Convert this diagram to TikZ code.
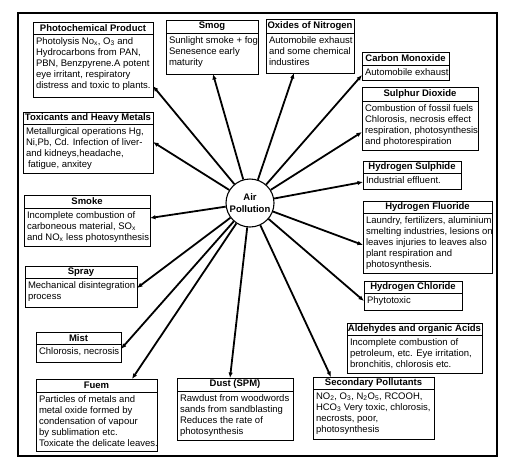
\documentclass[tikz,border=0pt]{standalone}
\usepackage{fontspec}
\setmainfont{Liberation Sans}
\usetikzlibrary{arrows.meta}
\tikzset{
  ttl/.style={draw, line width=0.9pt, inner sep=0pt, outer sep=0pt, font=\fontsize{9.5}{11}\selectfont\bfseries},
  bdy/.style={draw, line width=0.9pt, inner sep=0pt, outer sep=0pt},
  txt/.style={inner xsep=2.8pt, inner ysep=3.2pt, align=left, font=\fontsize{9.5}{11}\selectfont},
  conn/.style={line width=1.8pt, -{Latex[length=5.5pt,width=4.5pt]}},
  hub/.style={circle, draw, line width=1.1pt, minimum size=48pt, inner sep=0pt, align=center, font=\fontsize{9.5}{11.5}\selectfont\bfseries},
  frame/.style={line width=1.1pt}
}
\newcommand{\pbox}[8]{%
  \pgfmathsetmacro{\bxw}{#5-#2}%
  \pgfmathsetmacro{\bxt}{#4-#3}%
  \pgfmathsetmacro{\bxh}{#6-#4}%
  \node[ttl, minimum width=\bxw pt, minimum height=\bxt pt, anchor=north west] (#1t) at (#2,#3) {#7};
  \node[bdy, minimum width=\bxw pt, minimum height=\bxh pt, anchor=north west] (#1) at (#2,#4) {};
  \node[txt, anchor=north west] (#1x) at (#1.north west) {#8};
}
\begin{document}
\begin{tikzpicture}[x=1pt,y=-1pt]
\useasboundingbox[fill=white] (0,0) rectangle (518,467);
\draw[frame] (18,13) rectangle (497,456);

\node[hub] (air) at (250,203) {Air\\Pollution};

\pbox{photo}{33}{22}{34}{153}{97}{Photochemical Product}{Photolysis No\textsubscript{x}, O\textsubscript{3} and\\Hydrocarbons from PAN,\\PBN, Benzpyrene.A potent\\eye irritant, respiratory\\distress and toxic to plants.}
\pbox{smog}{166}{20}{33}{258}{74}{Smog}{Sunlight smoke + fog\\Senesence early\\maturity}
\pbox{nox}{266}{19}{33}{354}{73}{Oxides of Nitrogen}{Automobile exhaust\\and some chemical\\industires}
\pbox{co}{362}{52}{65}{449}{80}{Carbon Monoxide}{Automobile exhaust}
\pbox{so}{362}{87}{101}{478}{150}{Sulphur Dioxide}{Combustion of fossil fuels\\Chlorosis, necrosis effect\\respiration, photosynthesis\\and photorespiration}
\pbox{hs}{363}{161}{173}{461}{189}{Hydrogen Sulphide}{Industrial effluent.}
\pbox{hf}{363}{201}{213}{492}{273}{Hydrogen Fluoride}{Laundry, fertilizers, aluminium\\smelting industries, lesions on\\leaves injuries to leaves also\\plant respiration and\\photosynthesis.}
\pbox{hcl}{364}{281}{293}{462}{310}{Hydrogen Chloride}{Phytotoxic}
\pbox{ald}{347}{323}{335}{482}{373}{Aldehydes and organic Acids}{Incomplete combustion of\\petroleum, etc. Eye irritation,\\bronchitis, chlorosis etc.}
\pbox{sec}{313}{377}{389}{434}{439}{Secondary Pollutants}{NO\textsubscript{2}, O\textsubscript{3}, N\textsubscript{2}O\textsubscript{5}, RCOOH,\\HCO\textsubscript{3} Very toxic, chlorosis,\\necrosts, poor,\\photosynthesis}
\pbox{dust}{177}{378}{391}{293}{440}{Dust (SPM)}{Rawdust from woodwords\\sands from sandblasting\\Reduces the rate of\\photosynthesis}
\pbox{fuem}{36}{379}{392}{157}{451}{Fuem}{Particles of metals and\\metal oxide formed by\\condensation of vapour\\by sublimation etc.\\Toxicate the delicate leaves.}
\pbox{mist}{36}{332}{344}{121}{362}{Mist}{Chlorosis, necrosis}
\pbox{spray}{25}{266}{278}{137}{307}{Spray}{Mechanical disintegration\\process}
\pbox{smoke}{24}{195}{208}{150}{246}{Smoke}{Incomplete combustion of\\carboneous material, SO\textsubscript{x}\\and NO\textsubscript{x} less photosynthesis}
\pbox{toxic}{23}{112}{124}{153}{173}{Toxicants and Heavy Metals}{Metallurgical operations Hg,\\Ni,Pb, Cd. Infection of liver-\\and kidneys,headache,\\\hspace{2pt}fatigue, anxitey}

\coordinate (tphoto) at (153,86);
\coordinate (tsmog) at (213,74);
\coordinate (tnox) at (294,73);
\coordinate (tco) at (362,75);
\coordinate (tso) at (362,132);
\coordinate (ths) at (363,182);
\coordinate (thf) at (363,245);
\coordinate (thcl) at (364,301);
\coordinate (tsec) at (331,377);
\coordinate (tdust) at (230,378);
\coordinate (tfuem) at (132,379);
\coordinate (tmist) at (121,349);
\coordinate (tspray) at (137,288);
\coordinate (tsmoke) at (150,218);
\coordinate (ttoxic) at (153,142);

\foreach \t in {tphoto,tsmog,tnox,tco,tso,ths,thf,thcl,tsec,tdust,tfuem,tmist,tspray,tsmoke,ttoxic}
  \draw[conn] (air) -- (\t);
\end{tikzpicture}
\end{document}
